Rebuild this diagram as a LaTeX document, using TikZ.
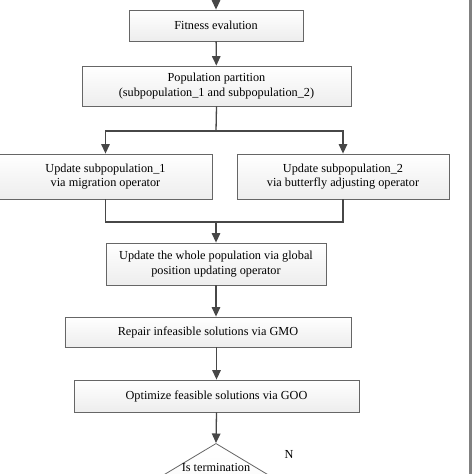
\documentclass[tikz,border=0pt]{standalone}
\usepackage{fontspec}
\setmainfont{Liberation Serif}
\usetikzlibrary{arrows.meta,shapes.geometric,shadows}
\begin{document}
\begin{tikzpicture}[x=1bp,y=-1bp,
  box/.style={draw=gray!80!black, line width=0.8bp, top color=white, bottom color=gray!14,
    drop shadow={shadow xshift=1.3bp, shadow yshift=-1.3bp, opacity=0.35},
    align=center, font=\fontsize{12.3}{14.3}\selectfont, inner sep=0pt},
  arr/.style={draw=black!72, line width=1.3bp, -{Triangle[width=8.5bp,length=9.5bp,fill=black!72]}},
  ln/.style={draw=black!72, line width=1.3bp},
  lbl/.style={font=\fontsize{12.3}{14.3}\selectfont, inner sep=0pt}]
\useasboundingbox (0,0) rectangle (474,474);
\clip (0,0) rectangle (474,474);
\fill[white] (0,0) rectangle (474,474);

\node[box, minimum width=174bp, minimum height=31bp] (fit) at (216,25.5) {Fitness evalution};
\node[box, minimum width=269bp, minimum height=40bp] (pp) at (216.5,86) {Population partition\\(subpopulation\_1 and subpopulation\_2)};
\node[box, minimum width=213bp, minimum height=45bp] (s1) at (105.5,176.5) {Update subpopulation\_1\\via migration operator};
\node[box, minimum width=212bp, minimum height=45bp] (s2) at (343,176.5) {Update subpopulation\_2\\via butterfly adjusting operator};
\node[box, minimum width=220bp, minimum height=42bp] (whole) at (216,264) {Update the whole population via global\\position updating operator};
\node[box, minimum width=286bp, minimum height=30bp] (rep) at (208,332) {Repair infeasible solutions via GMO};
\node[box, minimum width=285bp, minimum height=32bp] (opt) at (216.5,396) {Optimize feasible solutions via GOO};
\node[diamond, draw=gray!80!black, line width=0.8bp, top color=white, bottom color=gray!10,
  minimum width=200bp, minimum height=120bp, inner sep=0pt, anchor=north] (dec) at (216,443) {};
\node[lbl] (dect) at (216,467) {Is termination};
\node[lbl] (nlab) at (289,454) {N};

\coordinate (top) at (216,0);
\coordinate (sp) at (216,131);
\coordinate (jn) at (216,222);

\draw[arr] (top) -- (fit);
\draw[arr] (fit) -- (pp);
\draw[ln] (pp.south) -- (sp);
\draw[arr] (sp) -| (s1.north);
\draw[arr] (sp) -| (s2.north);
\draw[ln] (s1.south) |- (jn);
\draw[ln] (s2.south) |- (jn);
\draw[arr] (jn) -- (whole.north);
\draw[arr] (whole.south) -- (whole.south |- rep.north);
\draw[arr] (rep.south -| opt.north) -- (opt.north);
\draw[arr] (opt.south) -- (dec.north);

\draw[gray, line width=3bp] (470.5,0) -- (470.5,474);
\end{tikzpicture}
\end{document}
